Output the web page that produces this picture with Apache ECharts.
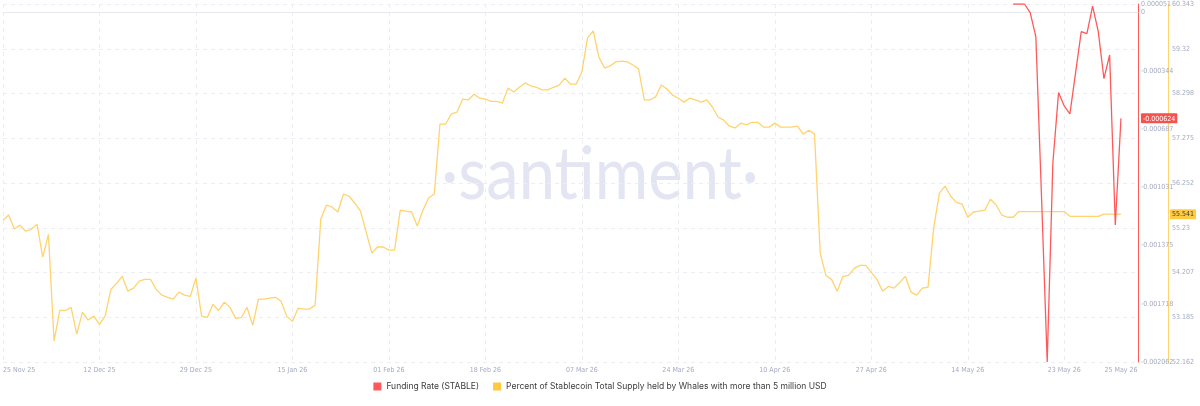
<!DOCTYPE html>
<html>
<head>
<meta charset="utf-8">
<script src="https://cdn.jsdelivr.net/npm/echarts@6/dist/echarts.min.js"></script>
<style>
html,body{margin:0;padding:0;background:#fff;}
#chart{width:1200px;height:406px;}
</style>
</head>
<body>
<div id="chart"></div>
<script>
// ---- data ----
const seriesNames = ['Funding Rate (STABLE)', 'Percent of Stablecoin Total Supply held by Whales with more than 5 million USD'];

// daily whale share (%), index 0 = 25 Nov 25
const whaleShare = [
55.40,55.52,55.20,55.29,55.15,55.20,55.31,54.56,55.08,52.64,
53.34,53.34,53.41,52.80,53.30,53.12,53.21,53.02,53.21,53.82,
53.96,54.12,53.78,53.85,54.01,54.05,54.05,53.82,53.69,53.64,
53.60,53.76,53.69,53.66,54.08,53.21,53.18,53.48,53.34,53.53,
53.41,53.16,53.18,53.41,53.00,53.60,53.60,53.62,53.64,53.55,
53.21,53.09,53.39,53.37,53.37,53.46,55.43,55.75,55.70,55.59,
56.00,55.95,55.79,55.61,55.13,54.65,54.79,54.79,54.72,54.72,
55.63,55.61,55.59,55.27,55.63,55.91,56.00,57.60,57.60,57.83,
57.87,58.17,58.15,58.28,58.19,58.17,58.12,58.12,58.08,58.42,
58.33,58.44,58.54,58.47,58.44,58.38,58.38,58.44,58.49,58.65,
58.51,58.51,58.79,59.57,59.73,59.13,58.88,58.93,59.02,59.04,
59.02,58.95,58.86,58.15,58.15,58.22,58.49,58.40,58.26,58.19,
58.10,58.19,58.15,58.10,58.15,57.99,57.76,57.69,57.55,57.51,
57.62,57.58,57.64,57.64,57.53,57.53,57.62,57.53,57.53,57.53,
57.55,57.37,57.46,57.37,54.65,54.14,54.05,53.78,54.12,54.14,
54.30,54.37,54.37,54.21,54.05,53.78,53.89,53.85,53.98,54.12,
53.76,53.69,53.85,53.87,55.22,56.02,56.18,55.95,55.81,55.77,
55.47,55.59,55.61,55.63,55.88,55.75,55.52,55.47,55.47,55.60,
55.60,55.60,55.60,55.60,55.60,55.60,55.60,55.60,55.49,55.49,
55.49,55.49,55.49,55.49,55.541,55.541,55.541,55.541
];

// funding rate, starts at day index 178
const fundingStartIndex = 178;
const fundingRate = [
0.000051,0.000051,0.000051,0.000000,-0.000142,-0.001088,-0.002062,-0.000887,-0.000472,-0.000551,
-0.000598,-0.000356,-0.000112,-0.000124,0.000039,-0.000112,-0.000390,-0.000250,-0.001253,-0.000624
];

// x tick labels keyed by day index
const xTickLabels = {
  0:'25 Nov 25', 17:'12 Dec 25', 34:'29 Dec 25', 51:'15 Jan 26', 68:'01 Feb 26',
  85:'18 Feb 26', 102:'07 Mar 26', 119:'24 Mar 26', 136:'10 Apr 26', 153:'27 Apr 26',
  170:'14 May 26', 187:'23 May 26', 197:'25 May 26'
};
const xGridStep = 17;
const axisPadDays = 3;

const fundingTickLabels = ['-0.002062','-0.001718','-0.001375','-0.001031','-0.000687','-0.000344','0','0.000051'];
const whaleTickLabels = ['52.162','53.185','54.207','55.23','56.252','57.275','58.298','59.32','60.343'];
const fundingRange = [-0.002062, 0.000051];
const whaleRange = [52.162, 60.343];

// ---- build ----
const nDays = whaleShare.length + axisPadDays;
const categories = [];
for (let i = 0; i < nDays; i++) categories.push(String(i));
const fundingData = [];
for (let i = 0; i < fundingStartIndex; i++) fundingData.push(null);
fundingRate.forEach(v => fundingData.push(v));

const lastFunding = fundingRate[fundingRate.length - 1];
const lastWhale = whaleShare[whaleShare.length - 1];

const RED = '#ff5a5a';
const YEL = '#ffd36e';
const LABEL = '#a3abc0';
const AXIS_FONT = '"Liberation Sans Narrow", "DejaVu Sans Condensed", "Liberation Sans", sans-serif';

const chart = echarts.init(document.getElementById('chart'), null, {renderer: 'canvas'});
chart.setOption({
  animation: false,
  backgroundColor: '#ffffff',
  textStyle: {fontFamily: 'Inter, "Open Sans", sans-serif'},
  grid: {left: 0, right: 62, top: 4, bottom: 44, containLabel: false},
  graphic: [{
    type: 'text',
    left: 'center',
    top: 138,
    z: 0,
    silent: true,
    style: {
      text: '·santiment·',
      font: '400 74px Lato, "Open Sans", sans-serif',
      fill: '#e3e6f2'
    },
    scaleX: 0.88,
    originX: 0
  }],
  legend: {
    bottom: 10,
    left: 'center',
    itemWidth: 8,
    itemHeight: 8,
    itemGap: 14,
    icon: 'rect',
    textStyle: {color: '#3c3c3c', fontSize: 8.5, fontFamily: 'Inter, sans-serif'},
    data: seriesNames
  },
  xAxis: {
    type: 'category',
    data: categories,
    boundaryGap: false,
    axisLine: {lineStyle: {color: '#e6e8ee'}},
    axisTick: {show: false},
    axisLabel: {
      color: LABEL,
      fontSize: 7,
      fontFamily: AXIS_FONT,
      margin: 5,
      alignMinLabel: 'left',
      interval: (idx) => xTickLabels[idx] !== undefined,
      formatter: (v, idx) => xTickLabels[idx] || ''
    },
    splitLine: {
      show: true,
      interval: (idx) => idx % xGridStep === 0 && idx <= 187,
      lineStyle: {color: '#eceef3', type: [4, 4]}
    }
  },
  yAxis: [{
    type: 'value',
    position: 'right',
    min: fundingRange[0],
    max: fundingRange[1],
    interval: -fundingRange[0] / 6,
    axisLine: {show: true, lineStyle: {color: RED, width: 1}},
    axisTick: {show: false},
    splitLine: {show: false},
    axisLabel: {
      color: LABEL, fontSize: 7, margin: 3, fontFamily: AXIS_FONT,
      formatter: (v, idx) => fundingTickLabels[idx] !== undefined ? fundingTickLabels[idx] : ''
    },
    axisPointer: {
      show: true,
      status: 'show',
      value: lastFunding,
      snap: false,
      triggerTooltip: false,
      lineStyle: {color: 'rgba(0,0,0,0)', width: 0},
      label: {
        show: true,
        formatter: () => lastFunding.toFixed(6),
        backgroundColor: '#f5514e',
        color: '#ffffff',
        fontSize: 7,
        fontFamily: AXIS_FONT,
        padding: [2, 2, 1, 2],
        margin: 3,
        borderRadius: 1
      }
    }
  }, {
    type: 'value',
    position: 'right',
    offset: 30,
    min: whaleRange[0],
    max: whaleRange[1],
    interval: (whaleRange[1] - whaleRange[0]) / 8,
    axisLine: {show: true, lineStyle: {color: YEL, width: 1}},
    axisTick: {show: false},
    splitLine: {show: true, lineStyle: {color: '#eceef3', type: [4, 4]}},
    axisLabel: {
      color: LABEL, fontSize: 7, margin: 4, fontFamily: AXIS_FONT,
      formatter: (v, idx) => whaleTickLabels[idx] !== undefined ? whaleTickLabels[idx] : ''
    },
    axisPointer: {
      show: true,
      status: 'show',
      value: lastWhale,
      snap: false,
      triggerTooltip: false,
      lineStyle: {color: 'rgba(0,0,0,0)', width: 0},
      label: {
        show: true,
        formatter: () => String(lastWhale),
        backgroundColor: '#ffcb45',
        color: '#3a3a3a',
        fontSize: 7,
        fontFamily: AXIS_FONT,
        padding: [2, 2, 1, 2],
        margin: 2,
        borderRadius: 1
      }
    }
  }],
  series: [{
    name: seriesNames[0],
    type: 'line',
    yAxisIndex: 0,
    data: fundingData,
    showSymbol: false,
    symbol: 'none',
    connectNulls: false,
    lineStyle: {color: RED, width: 1.3},
    itemStyle: {color: RED},
    z: 3
  }, {
    name: seriesNames[1],
    type: 'line',
    yAxisIndex: 1,
    data: whaleShare,
    showSymbol: false,
    symbol: 'none',
    lineStyle: {color: YEL, width: 1.3},
    itemStyle: {color: '#ffc83d'},
    z: 2
  }]
});
</script>
</body>
</html>
